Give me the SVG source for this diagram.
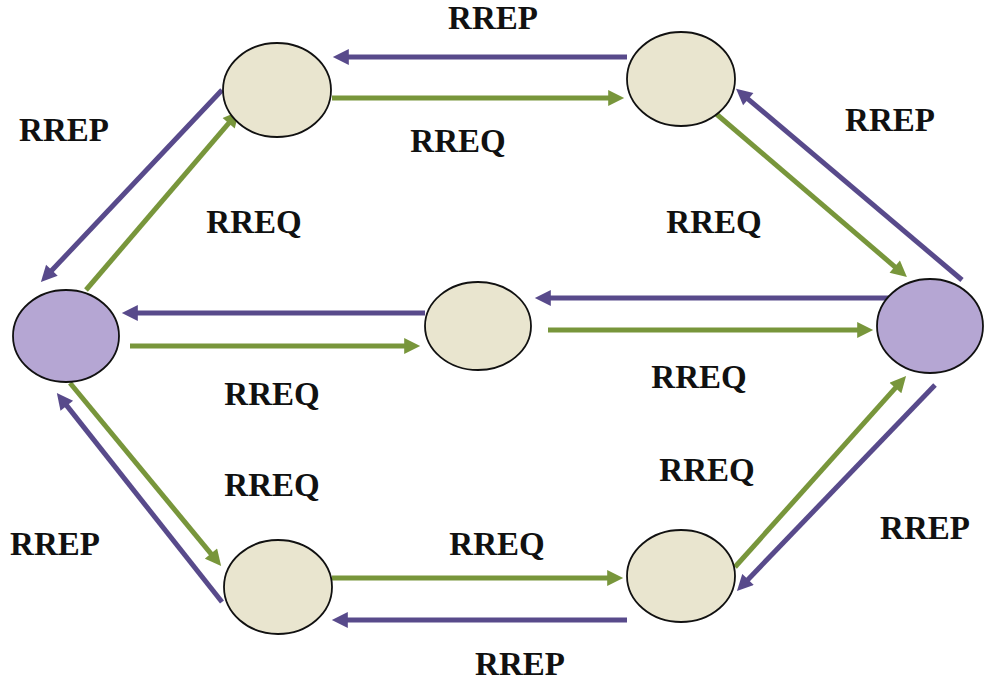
<svg xmlns="http://www.w3.org/2000/svg" width="991" height="685" viewBox="0 0 991 685">
<style>
.lbl{font-family:"Liberation Serif","Times New Roman",serif;font-weight:bold;font-size:33px;fill:#111;text-anchor:middle}
.rep{stroke:#584a8b;stroke-width:5;fill:none;marker-end:url(#ap)}
.req{stroke:#78963b;stroke-width:5;fill:none;marker-end:url(#ag)}
.n{fill:#e9e5cf;stroke:#111;stroke-width:1.8}
.s{fill:#b5a6d3;stroke:#111;stroke-width:1.8}
</style>
<defs>
<marker id="ap" viewBox="0 0 10 10" refX="3" refY="5" markerWidth="3.6" markerHeight="3.2" orient="auto"><path d="M0,0 L10,5 L0,10 z" fill="#584a8b"/></marker>
<marker id="ag" viewBox="0 0 10 10" refX="3" refY="5" markerWidth="3.6" markerHeight="3.2" orient="auto"><path d="M0,0 L10,5 L0,10 z" fill="#78963b"/></marker>
</defs>
<rect width="991" height="685" fill="#fff"/>
<g id="connectors">
<line class="rep" x1="627" y1="57" x2="344" y2="57"/>
<line class="req" x1="332" y1="98" x2="613" y2="98"/>
<line class="rep" x1="425" y1="313" x2="133" y2="313"/>
<line class="req" x1="130" y1="346" x2="409" y2="346"/>
<line class="rep" x1="890" y1="298" x2="546" y2="298"/>
<line class="req" x1="548" y1="330" x2="862" y2="330"/>
<line class="req" x1="332" y1="578" x2="612" y2="578"/>
<line class="rep" x1="627" y1="620" x2="343" y2="620"/>
<line class="rep" x1="222" y1="90" x2="48.6" y2="273.8"/>
<line class="req" x1="86" y1="290" x2="231.8" y2="119.6"/>
<line class="rep" x1="962" y1="280" x2="744.6" y2="96.1"/>
<line class="req" x1="714" y1="112" x2="898.4" y2="269.8"/>
<line class="rep" x1="222" y1="602" x2="63.8" y2="401.9"/>
<line class="req" x1="70" y1="383" x2="214" y2="557.3"/>
<line class="req" x1="735" y1="567" x2="898.6" y2="384.4"/>
<line class="rep" x1="935" y1="385" x2="744.7" y2="582.9"/>
</g>
<g id="node-tl"><ellipse class="n" cx="277" cy="90" rx="54" ry="47"/></g>
<g id="node-tr"><ellipse class="n" cx="681" cy="79" rx="54" ry="47"/></g>
<g id="node-src"><ellipse class="s" cx="66" cy="336" rx="53" ry="46"/></g>
<g id="node-mid"><ellipse class="n" cx="478" cy="326" rx="53" ry="44"/></g>
<g id="node-dst"><ellipse class="s" cx="930" cy="326" rx="53" ry="47"/></g>
<g id="node-bl"><ellipse class="n" cx="278" cy="587" rx="54" ry="47"/></g>
<g id="node-br"><ellipse class="n" cx="681" cy="576" rx="54" ry="46"/></g>
<g id="labels">
<text class="lbl" x="493" y="29">RREP</text>
<text class="lbl" x="458" y="152">RREQ</text>
<text class="lbl" x="64" y="141">RREP</text>
<text class="lbl" x="254" y="233">RREQ</text>
<text class="lbl" x="890" y="131">RREP</text>
<text class="lbl" x="714" y="233">RREQ</text>
<text class="lbl" x="272" y="405">RREQ</text>
<text class="lbl" x="699" y="388">RREQ</text>
<text class="lbl" x="272" y="496">RREQ</text>
<text class="lbl" x="707" y="481">RREQ</text>
<text class="lbl" x="55" y="555">RREP</text>
<text class="lbl" x="497" y="555">RREQ</text>
<text class="lbl" x="925" y="539">RREP</text>
<text class="lbl" x="520" y="675">RREP</text>
</g>
</svg>
